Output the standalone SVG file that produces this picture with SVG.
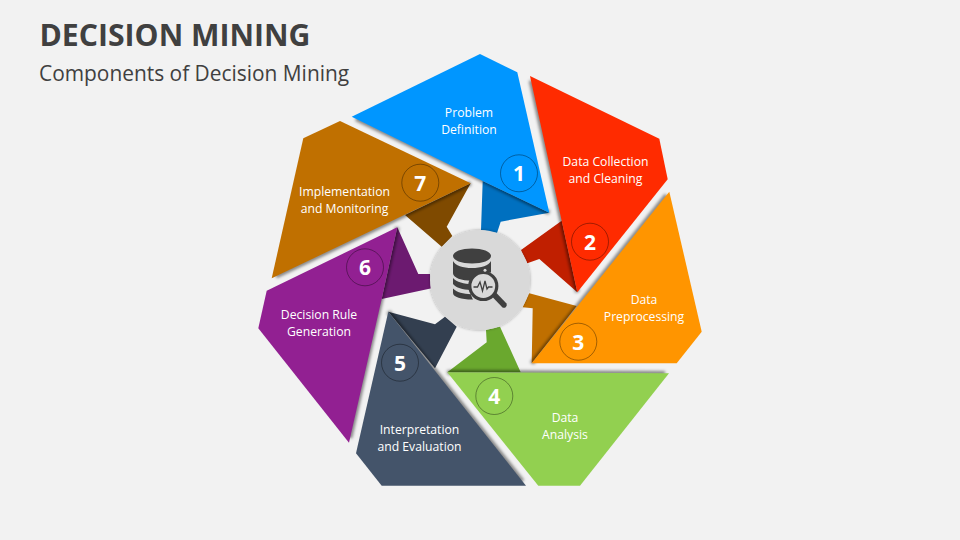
<svg xmlns="http://www.w3.org/2000/svg" width="960" height="540" viewBox="0 0 960 540">
<style>
text{font-family:"Open Sans","Noto Sans","Liberation Sans",sans-serif}
.l{font-size:12.2px;fill:#fff;text-anchor:middle;font-weight:500}
.n{font-size:21px;font-weight:700;fill:#fff;text-anchor:middle}
.c{fill:none;stroke-opacity:.36;stroke:#000;stroke-width:1}
.s{fill:none;stroke:#000;stroke-opacity:.45;stroke-width:4.5;filter:url(#bl)}
</style>
<defs>
<filter id="bl" filterUnits="userSpaceOnUse" x="0" y="0" width="960" height="540"><feGaussianBlur stdDeviation="1.6"/></filter>
<filter id="cs" x="-15%" y="-15%" width="130%" height="130%"><feDropShadow dx="0" dy="0" stdDeviation="1.5" flood-color="#000" flood-opacity=".35"/></filter>
</defs>
<rect width="960" height="540" fill="#f2f2f2"/>
<text x="39.500" y="45.500" font-size="30.200" font-weight="700" fill="#404040">DECISION MINING</text>
<text x="39" y="81" font-size="20.900" fill="#404040">Components of Decision Mining</text>
<g id="connectors">
<polygon fill="#0070c0" points="482.7,181 549.3,212.7 500.7,221.7 497,233 481,230"/>
<polygon fill="#c01f00" points="561.7,220.7 577.3,292.3 539.3,259 527.3,263.3 521,250"/>
<polygon fill="#bf6f00" points="576.7,306 531.7,363.3 532.7,308.3 522.7,307.3 529.3,293.3"/>
<polygon fill="#6aa82e" points="447.3,372.3 520.7,372.3 500,326.7 486,330 486.7,342.3"/>
<polygon fill="#333f50" points="388.3,311.7 435,368.3 456.7,326.7 445,316.7 435,324.3"/>
<polygon fill="#6c1a70" points="397.3,227.3 381.7,299 431.7,288.3 430,274 418.3,274"/>
<polygon fill="#7f4a00" points="470.7,183.3 405,215 441.7,246.7 452.3,236 446.7,226.7"/>
</g>
<g id="node-6"><line class="s" x1="397.3" y1="227.3" x2="350" y2="438"/><polygon fill="#922092" points="397.3,227.3 266.7,290.7 258.3,328.3 349,442.7 381.7,299"/>
<circle class="c" cx="365" cy="267.3" r="18.5"/><text class="n" x="365" y="275">6</text>
<text class="l" x="319" y="319">Decision Rule</text><text class="l" x="319" y="336">Generation</text></g>
<g id="node-7"><line class="s" x1="470.7" y1="183.3" x2="276" y2="276.3"/><polygon fill="#c07000" points="340,121 303.3,138.3 271.7,278.3 470.7,183.3"/>
<circle class="c" cx="420.3" cy="182.7" r="18.5"/><text class="n" x="420.3" y="190.5">7</text>
<text class="l" x="344.5" y="196">Implementation</text><text class="l" x="344.5" y="213">and Monitoring</text></g>
<g id="node-1"><line class="s" x1="356" y1="118.8" x2="549.3" y2="212.7"/><polygon fill="#0096ff" points="480,54 517.3,72.3 549.3,212.7 482.7,181 351.7,116.7"/>
<circle class="c" cx="519" cy="173.3" r="18.5"/><text class="n" x="519" y="181">1</text>
<text class="l" x="469" y="117">Problem</text><text class="l" x="469" y="134">Definition</text></g>
<g id="node-2"><line class="s" x1="531" y1="80.5" x2="577.3" y2="292.3"/><polygon fill="#ff2b00" points="530,76 659.3,138.7 667.7,179.3 577.3,292.3"/>
<circle class="c" cx="590" cy="241.7" r="18.5"/><text class="n" x="590" y="249.5">2</text>
<text class="l" x="605.5" y="166">Data Collection</text><text class="l" x="605.5" y="183">and Cleaning</text></g>
<g id="node-3"><line class="s" x1="666.500" y1="195.200" x2="531.7" y2="363.3"/><polygon fill="#ff9500" points="669.3,191.7 701.7,331.7 676.7,363.3 531.7,363.3"/>
<circle class="c" cx="578.3" cy="341.7" r="18.5"/><text class="n" x="578.3" y="349.5">3</text>
<text class="l" x="644" y="304">Data</text><text class="l" x="644" y="321">Preprocessing</text></g>
<g id="node-5"><line class="s" x1="388.3" y1="311.7" x2="522.500" y2="481.300"/><polygon fill="#44546a" points="388.3,311.7 526,485.7 381.7,485.7 356,453.3"/>
<circle class="c" cx="400" cy="362.7" r="18.5"/><text class="n" x="400" y="370.5">5</text>
<text class="l" x="419.5" y="434">Interpretation</text><text class="l" x="419.5" y="451">and Evaluation</text></g>
<g id="node-4"><line class="s" x1="447.3" y1="372.3" x2="665" y2="373.3"/><polygon fill="#92d050" points="447.3,372.3 669,373.3 580,485.7 538.3,485.7"/>
<circle class="c" cx="494.3" cy="396" r="18.5"/><text class="n" x="494.3" y="404">4</text>
<text class="l" x="565" y="422">Data</text><text class="l" x="565" y="439">Analysis</text></g>
<g id="center">
<circle cx="480" cy="280" r="50" fill="#d9d9d9" filter="url(#cs)"/>
<g fill="#404040">
<path d="M453,256c0-4.500 8.500-7.500 19-7.500s19,3 19,7.500s-8.500,7.500-19,7.500s-19-3-19-7.500z"/>
<path d="M453,261c2,4.500 10,7 19,7s17-2.500 19-7v11.500c-7,0-14,4-17,8c-1,0-1.500,.2-2,.2c-10.500,0-19-3-19-7.500z"/>
<path d="M453,278c3.500,4 11,6 19,6.200h.5c-1,2-1.500,3.500-1.700,5.800c-8,-.2-15-2.300-17.800-6z"/>
<path d="M453,288.500c3.500,3.800 10.500,5.500 18,5.800c.5,2 1,3.500 2,5.200h-1c-10.500,0-19-2.500-19-6.500z"/>
<path d="M492,296.500l4-4l10.500,11a3,3 0 0 1-4,4z"/>
</g>
<circle cx="483.300" cy="286" r="13.500" fill="#d9d9d9" stroke="#404040" stroke-width="3.200"/>
<circle cx="485" cy="270.300" r="1.500" fill="#d9d9d9"/>
<path d="M473.500,287h4l2.500-5l2.500,9l2.500-10l2,8l1.500-2h4" fill="none" stroke="#404040" stroke-width="1.300"/>
</g>
</svg>
